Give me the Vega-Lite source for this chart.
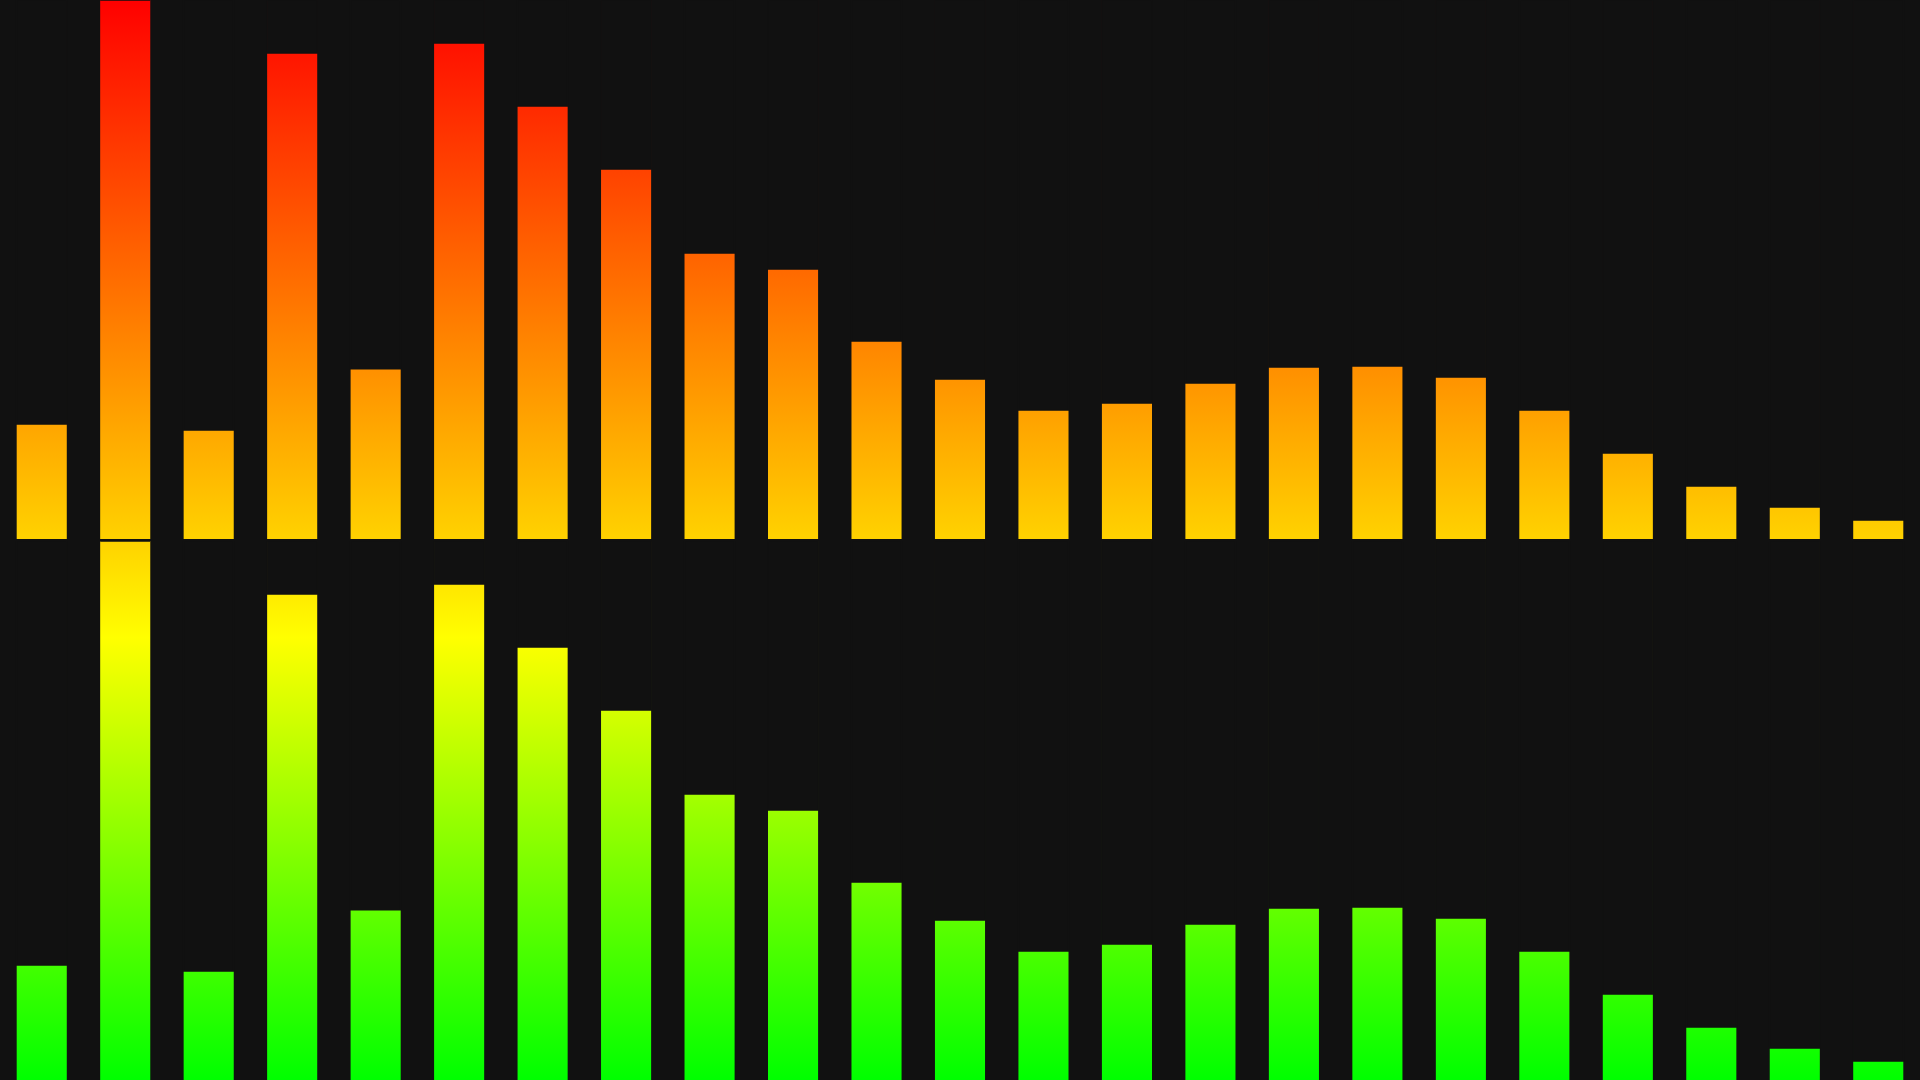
{
  "$schema": "https://vega.github.io/schema/vega-lite/v6.json",
  "background": "#111111",
  "padding": 0,
  "spacing": 2,
  "bounds": "flush",
  "config": {"view": {"stroke": null}},
  "data": {"values": [
    {"bar": 1, "value": 21.35},
    {"bar": 2, "value": 100},
    {"bar": 3, "value": 20.2},
    {"bar": 4, "value": 90.17},
    {"bar": 5, "value": 31.58},
    {"bar": 6, "value": 92.02},
    {"bar": 7, "value": 80.32},
    {"bar": 8, "value": 68.63},
    {"bar": 9, "value": 53.04},
    {"bar": 10, "value": 50.11},
    {"bar": 11, "value": 36.75},
    {"bar": 12, "value": 29.68},
    {"bar": 13, "value": 23.93},
    {"bar": 14, "value": 25.23},
    {"bar": 15, "value": 28.94},
    {"bar": 16, "value": 31.91},
    {"bar": 17, "value": 32.1},
    {"bar": 18, "value": 30.06},
    {"bar": 19, "value": 23.93},
    {"bar": 20, "value": 15.96},
    {"bar": 21, "value": 9.83},
    {"bar": 22, "value": 5.94},
    {"bar": 23, "value": 3.53}
  ]},
  "vconcat": [
    {
      "width": 1920,
      "height": 539,
      "layer": [
        {
          "mark": {"type": "bar", "fill": {"gradient": "linear", "x1": 0, "y1": 0, "x2": 0, "y2": 1, "stops": [{"offset": 0, "color": "#ff0000"}, {"offset": 1, "color": "#ffd200"}]}},
          "encoding": {
            "x": {"field": "bar", "type": "ordinal", "axis": null, "scale": {"paddingInner": 0.4, "paddingOuter": 0.2}},
            "y": {"datum": 100, "type": "quantitative", "axis": null, "scale": {"domain": [0, 100], "nice": false}},
            "y2": {"datum": 0}
          }
        },
        {
          "mark": {"type": "bar", "fill": "#111111", "stroke": "#111111", "strokeWidth": 1.5, "clip": true},
          "encoding": {
            "x": {"field": "bar", "type": "ordinal", "axis": null},
            "y": {"field": "value", "type": "quantitative", "axis": null},
            "y2": {"datum": 100}
          }
        }
      ]
    },
    {
      "width": 1920,
      "height": 539,
      "layer": [
        {
          "mark": {"type": "bar", "fill": {"gradient": "linear", "x1": 0, "y1": 0, "x2": 0, "y2": 1, "stops": [{"offset": 0, "color": "#ffd200"}, {"offset": 0.18, "color": "#ffff00"}, {"offset": 1, "color": "#00ff00"}]}},
          "encoding": {
            "x": {"field": "bar", "type": "ordinal", "axis": null, "scale": {"paddingInner": 0.4, "paddingOuter": 0.2}},
            "y": {"datum": 100, "type": "quantitative", "axis": null, "scale": {"domain": [0, 100], "nice": false}},
            "y2": {"datum": 0}
          }
        },
        {
          "mark": {"type": "bar", "fill": "#111111", "stroke": "#111111", "strokeWidth": 1.5, "clip": true},
          "encoding": {
            "x": {"field": "bar", "type": "ordinal", "axis": null},
            "y": {"field": "value", "type": "quantitative", "axis": null},
            "y2": {"datum": 100}
          }
        }
      ]
    }
  ]
}
